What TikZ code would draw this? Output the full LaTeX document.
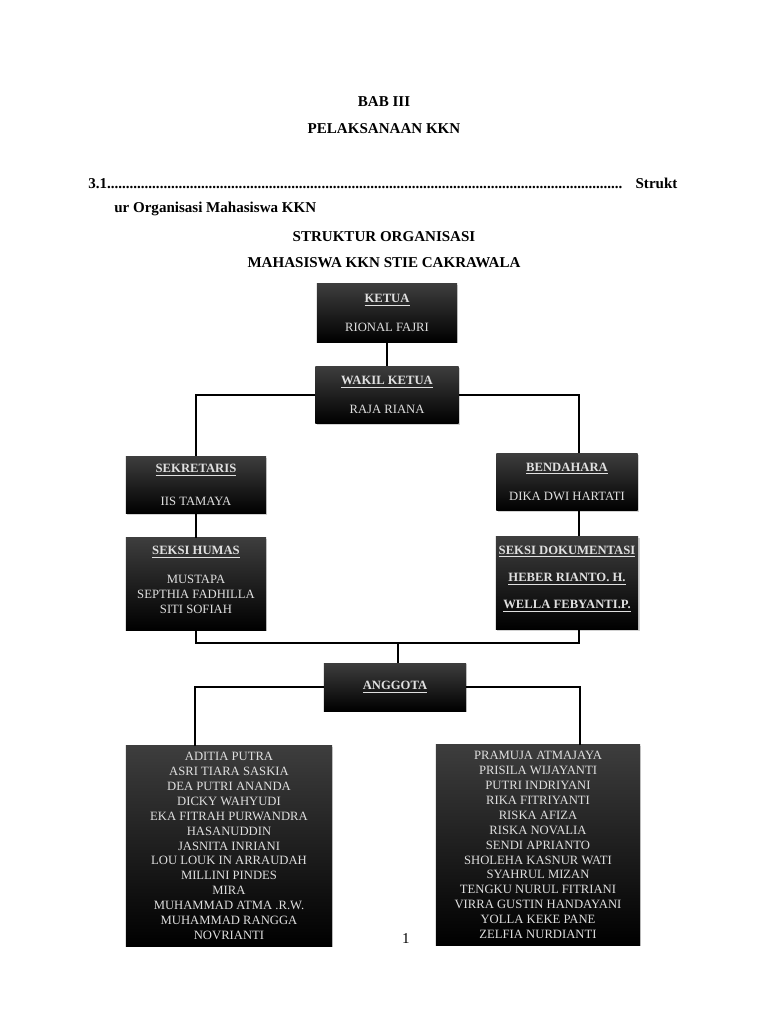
\documentclass[tikz,border=0pt]{standalone}
\usepackage{fontspec}
\setmainfont{Liberation Serif}
\usetikzlibrary{shadows,positioning}
\tikzset{
  headtext/.style={font=\fontsize{10.7}{13}\selectfont\bfseries,inner sep=0pt},
  orgbox/.style  ={rectangle,top color=black!76,middle color=black,bottom color=black,
                   text=white!88!black,align=center,inner sep=2pt,
                   font=\fontsize{9}{11}\selectfont,
                   drop shadow={opacity=0.35,shadow xshift=1pt,shadow yshift=-1pt}},
  listbox/.style ={orgbox,minimum height=5cm,font=\fontsize{9}{10.6}\selectfont},
  link/.style    ={line width=1.1pt}
}
\newcommand{\jab}[1]{\underline{\textbf{#1}}}

\begin{document}
\begin{tikzpicture}[x=0.025cm,y=-0.025cm]
  \useasboundingbox[fill=white] (0,0) rectangle (768,1024);

  % Heading
  \node (bab) at (384,102) [headtext] {BAB III};
  \node (pel) at (384,129) [headtext] {PELAKSANAAN KKN};
  \node (sub) at (88,183) [headtext,anchor=west,text width=14.725cm]
        {3.1\leaders\hbox{.}\hfill\hspace{0.85em}Strukt};
  \node (sub2) at (114,209) [headtext,anchor=west] {ur Organisasi Mahasiswa KKN};
  \node (judul1) at (384,237) [headtext] {STRUKTUR ORGANISASI};
  \node (judul2) at (384,263) [headtext] {MAHASISWA KKN STIE CAKRAWALA};

  % Pengurus inti
  \node (ketua) at (387,313) [orgbox,minimum width=3.5cm,minimum height=1.45cm]
        {\jab{KETUA}\\[9.5pt]RIONAL FAJRI};
  \node (wakil) at (387,395) [orgbox,minimum width=3.575cm,minimum height=1.425cm]
        {\jab{WAKIL KETUA}\\[9.5pt]RAJA RIANA};
  \node (sekre) at (196,485) [orgbox,minimum width=3.5cm,minimum height=1.425cm]
        {\jab{SEKRETARIS}\\[12pt]IIS TAMAYA};
  \node (benda) at (567,482) [orgbox,minimum width=3.525cm,minimum height=1.425cm]
        {\jab{BENDAHARA}\\[9.5pt]DIKA DWI HARTATI};

  % Seksi
  \node (humas) at (196,584) [orgbox,minimum width=3.5cm,minimum height=2.3cm,
        font=\fontsize{9}{10.6}\selectfont]
        {\jab{SEKSI HUMAS}\\[10pt]MUSTAPA\\SEPTHIA FADHILLA\\SITI SOFIAH\\[-5pt]};
  \node (doku) at (567,583) [orgbox,minimum width=3.525cm,minimum height=2.325cm]
        {\jab{SEKSI DOKUMENTASI}\\[8.5pt]\jab{HEBER RIANTO. H.}\\[8pt]\jab{WELLA FEBYANTI.P.}\\[-3pt]};

  % Anggota
  \node (anggota) at (395,687) [orgbox,minimum width=3.55cm,minimum height=1.2cm]
        {\jab{ANGGOTA}};
  \node (kiri) at (229,846) [listbox,minimum width=5.15cm]
        {ADITIA PUTRA\\ASRI TIARA SASKIA\\DEA PUTRI ANANDA\\DICKY WAHYUDI\\
         EKA FITRAH PURWANDRA\\HASANUDDIN\\JASNITA INRIANI\\LOU LOUK IN ARRAUDAH\\
         MILLINI PINDES\\MIRA\\MUHAMMAD ATMA .R.W.\\MUHAMMAD RANGGA\\NOVRIANTI};
  \node (kanan) at (538,845) [listbox,minimum width=5.1cm]
        {PRAMUJA ATMAJAYA\\PRISILA WIJAYANTI\\PUTRI INDRIYANI\\RIKA FITRIYANTI\\
         RISKA AFIZA\\RISKA NOVALIA\\SENDI APRIANTO\\SHOLEHA KASNUR WATI\\
         SYAHRUL MIZAN\\TENGKU NURUL FITRIANI\\VIRRA GUSTIN HANDAYANI\\
         YOLLA KEKE PANE\\ZELFIA NURDIANTI};

  % Nomor halaman
  \node (hal) at (406,939) [font=\fontsize{10.7}{13}\selectfont] {1};

  % Garis penghubung
  \coordinate (temu) at (398,643);
  \draw[link] (ketua) -- (wakil);
  \draw[link] (wakil.west) -| (sekre.north);
  \draw[link] (wakil.east) -| ([xshift=0.3cm]benda.north);
  \draw[link] (sekre) -- (humas);
  \draw[link] ([xshift=0.3cm]benda.south) -- ([xshift=0.3cm]doku.north);
  \draw[link] (humas.south) |- (temu) -| ([xshift=0.3cm]doku.south);
  \draw[link] (temu) -- (temu |- anggota.north);
  \draw[link] (anggota.west) -| ([xshift=-0.85cm]kiri.north);
  \draw[link] (anggota.east) -| ([xshift=1.05cm]kanan.north);
\end{tikzpicture}
\end{document}
